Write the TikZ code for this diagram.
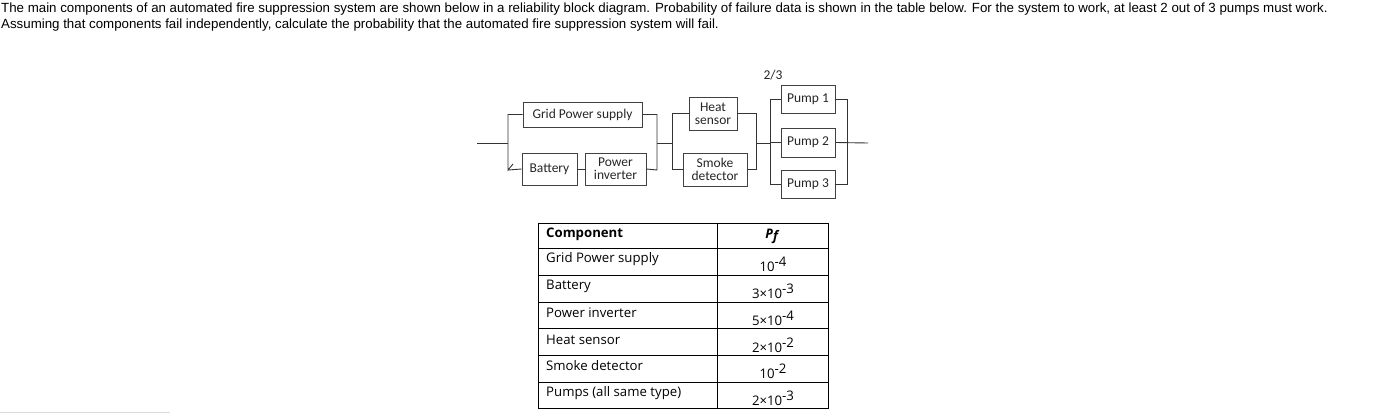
\documentclass[tikz,border=0pt]{standalone}
\usepackage{fontspec}
\setmainfont{Liberation Sans}
\newfontfamily\blk{Carlito}
\newfontfamily\tbl{Open Sans}
\begin{document}
\begin{tikzpicture}[x=1pt,y=-1pt,
  blk/.style={draw=black!75,line width=0.9pt,inner sep=0pt,font=\blk\fontsize{13.5}{12}\selectfont,align=center,text=black!85},
  ln/.style={draw=black!80,line width=0.9pt},
  cell/.style={inner sep=0pt,anchor=west,font=\tbl\fontsize{13.2}{14}\selectfont},
  val/.style={inner sep=0pt,font=\tbl\fontsize{13.2}{14}\selectfont}]
\useasboundingbox (0,0) rectangle (1374,415);
\node[anchor=north west,inner sep=0pt,align=left,font=\fontsize{13.3}{15.5}\selectfont] (hdr) at (1,3)
 {The main components of an automated fire suppression system are shown below in a reliability block diagram. Probability of failure data is shown in the table below. For the system to work, at least 2 out of 3 pumps must work.\\
 Assuming that components fail independently, calculate the probability that the automated fire suppression system will fail.};
% blocks
\node[blk,minimum width=119,minimum height=25] (grid) at (582.5,114.5) {Grid Power supply};
\node[blk,minimum width=55,minimum height=32] (bat) at (549.5,169) {Battery};
\node[blk,minimum width=61,minimum height=32] (inv) at (615.5,169) {Power\\[1pt]inverter};
\node[blk,minimum width=48,minimum height=33] (heat) at (713,113.5) {Heat\\[1pt]sensor};
\node[blk,minimum width=64,minimum height=33] (smoke) at (715,169.5) {Smoke\\[1pt]detector};
\node[blk,minimum width=54,minimum height=28] (p1) at (808,99) {Pump 1};
\node[blk,minimum width=54,minimum height=29] (p2) at (808,142.5) {Pump 2};
\node[blk,minimum width=54,minimum height=28] (p3) at (808,184) {Pump 3};
\node[font=\blk\fontsize{13.5}{12}\selectfont,text=black!85] (k) at (773,75) {2/3};
% connectors
\coordinate (in) at (477,143);
\coordinate (out) at (868,143);
\draw[ln] (in) -- (508,143);
\draw[ln] (grid.west) -- (508,114.5) -- (508,170) -- (513,164);
\draw[ln] (508,170) -- (bat.west);
\draw[ln] (bat.east) -- (inv.west);
\draw[ln] (grid.east) -- (657,114.5) -- (657,170) -- (inv.east);
\draw[ln] (657,143) -- (672,143);
\draw[ln] (heat.west) -- (672,113.5) -- (672,169.5) -- (smoke.west);
\draw[ln] (heat.east) -- (756,113.5) -- (756,169.5) -- (smoke.east);
\draw[ln] (756,143) -- (770,143);
\draw[ln] (p1.west) -- (770,99) -- (770,184) -- (p3.west);
\draw[ln] (770,142.5) -- (p2.west);
\draw[ln] (p1.east) -- (847,99) -- (847,184) -- (p3.east);
\draw[ln] (p2.east) -- (out);
% table
\draw[line width=0.9pt] (538,223) rectangle (828,408);
\draw[line width=0.9pt] (717,223) -- (717,408);
\foreach \yy in {248,275,302,328,355,382} \draw[line width=0.9pt] (538,\yy) -- (828,\yy);
\node[cell,font=\tbl\bfseries\fontsize{13.2}{14}\selectfont] (h1) at (546,234) {Component};
\node[val] (h2) at (772.5,236) {\textbf{\textit{P}}\raisebox{-2pt}{\textbf{\textit{f}}}};
\node[cell] (c1) at (546,259) {Grid Power supply};
\node[cell] (c2) at (546,286) {Battery};
\node[cell] (c3) at (546,313) {Power inverter};
\node[cell] (c4) at (546,340) {Heat sensor};
\node[cell] (c5) at (546,366) {Smoke detector};
\node[cell] (c6) at (546,393) {Pumps (all same type)};
\node[val] (v1) at (773,264) {10\raisebox{5pt}{-4}};
\node[val] (v2) at (773,291) {3×10\raisebox{5pt}{-3}};
\node[val] (v3) at (773,318) {5×10\raisebox{5pt}{-4}};
\node[val] (v4) at (773,345) {2×10\raisebox{5pt}{-2}};
\node[val] (v5) at (773,371) {10\raisebox{5pt}{-2}};
\node[val] (v6) at (773,398) {2×10\raisebox{5pt}{-3}};
\draw[black!15,line width=1pt] (0,412) -- (170,412);
\end{tikzpicture}
\end{document}
